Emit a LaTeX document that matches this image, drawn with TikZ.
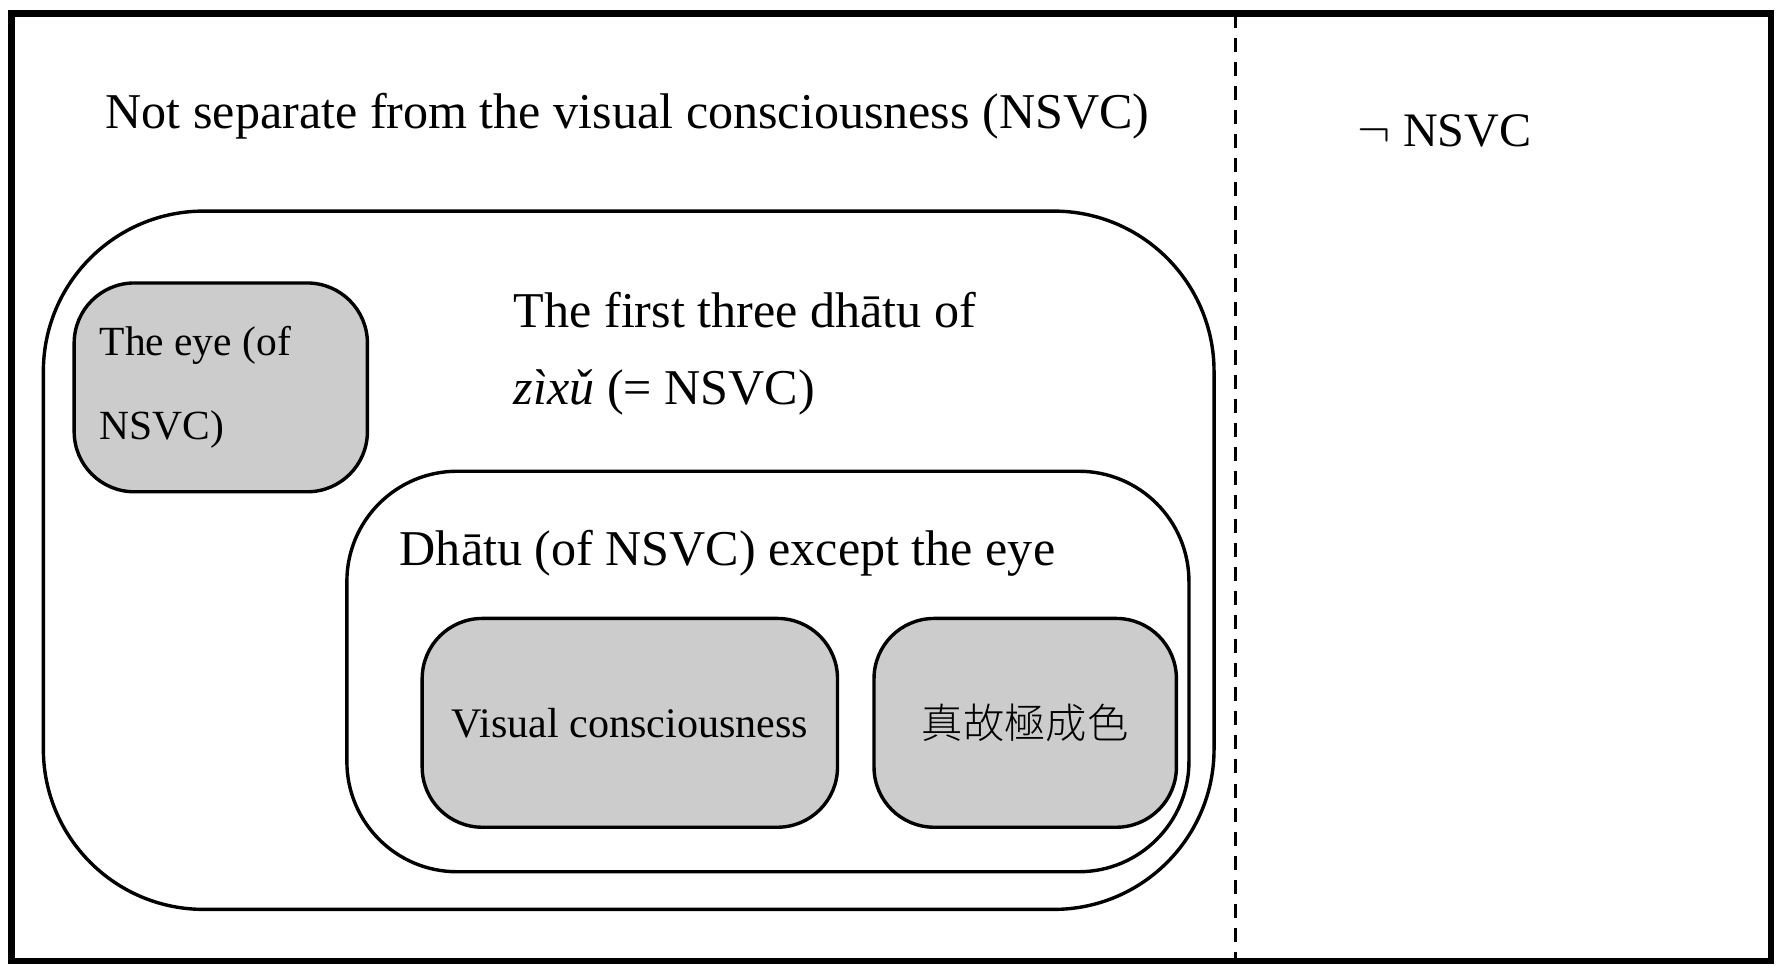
\documentclass[tikz,border=0pt]{standalone}
\usepackage{fontspec}
\setmainfont{Liberation Serif}
\newfontfamily\cjk{Noto Sans CJK SC Light}
\begin{document}
\begin{tikzpicture}[x=0.02cm,y=-0.02cm,
  box/.style={draw,line width=1.7pt},
  gbox/.style={box,fill=black!20},
  txt/.style={inner sep=0pt,anchor=west}]
\useasboundingbox (0,0) rectangle (1560,855);
\draw[line width=3.2pt] (10,12) rectangle (1552,842);
\draw[line width=1.4pt,dash pattern=on 7pt off 5pt] (1083,12) -- (1083,842);
\node[inner sep=0pt,font=\fontsize{25}{30}\selectfont] (title) at (550,102) {Not separate from the visual consciousness (NSVC)};
\node[inner sep=0pt,font=\fontsize{24}{29}\selectfont] (neg) at (1266,115) {$\neg$ NSVC};
\draw[box,rounded corners=80] (38,185) rectangle (1064,797);
\draw[gbox,rounded corners=30] (65,248) rectangle (322,431);
\node[txt,font=\fontsize{20.7}{25}\selectfont] (eye1) at (87,303) {The eye (of};
\node[txt,font=\fontsize{20.7}{25}\selectfont] (eye2) at (87,376) {NSVC)};
\node[txt,font=\fontsize{25}{30}\selectfont] (f1) at (450,272) {The first three dh\={a}tu of};
\node[txt,font=\fontsize{25}{30}\selectfont] (f2) at (450,344) {\textit{z\`{\i}x\v{u}} (= NSVC)};
\draw[box,rounded corners=55] (304,413) rectangle (1042,764);
\node[txt,font=\fontsize{25}{30}\selectfont] (d) at (350,485) {Dh\={a}tu (of NSVC) except the eye};
\draw[gbox,rounded corners=30] (370,542) rectangle node[font=\fontsize{21}{25}\selectfont] (vc) {Visual consciousness} (734,725);
\draw[gbox,rounded corners=30] (766,542) rectangle node[font=\cjk\fontsize{20.6}{24}\selectfont] (cj) {真故極成色} (1031,725);
\end{tikzpicture}
\end{document}
